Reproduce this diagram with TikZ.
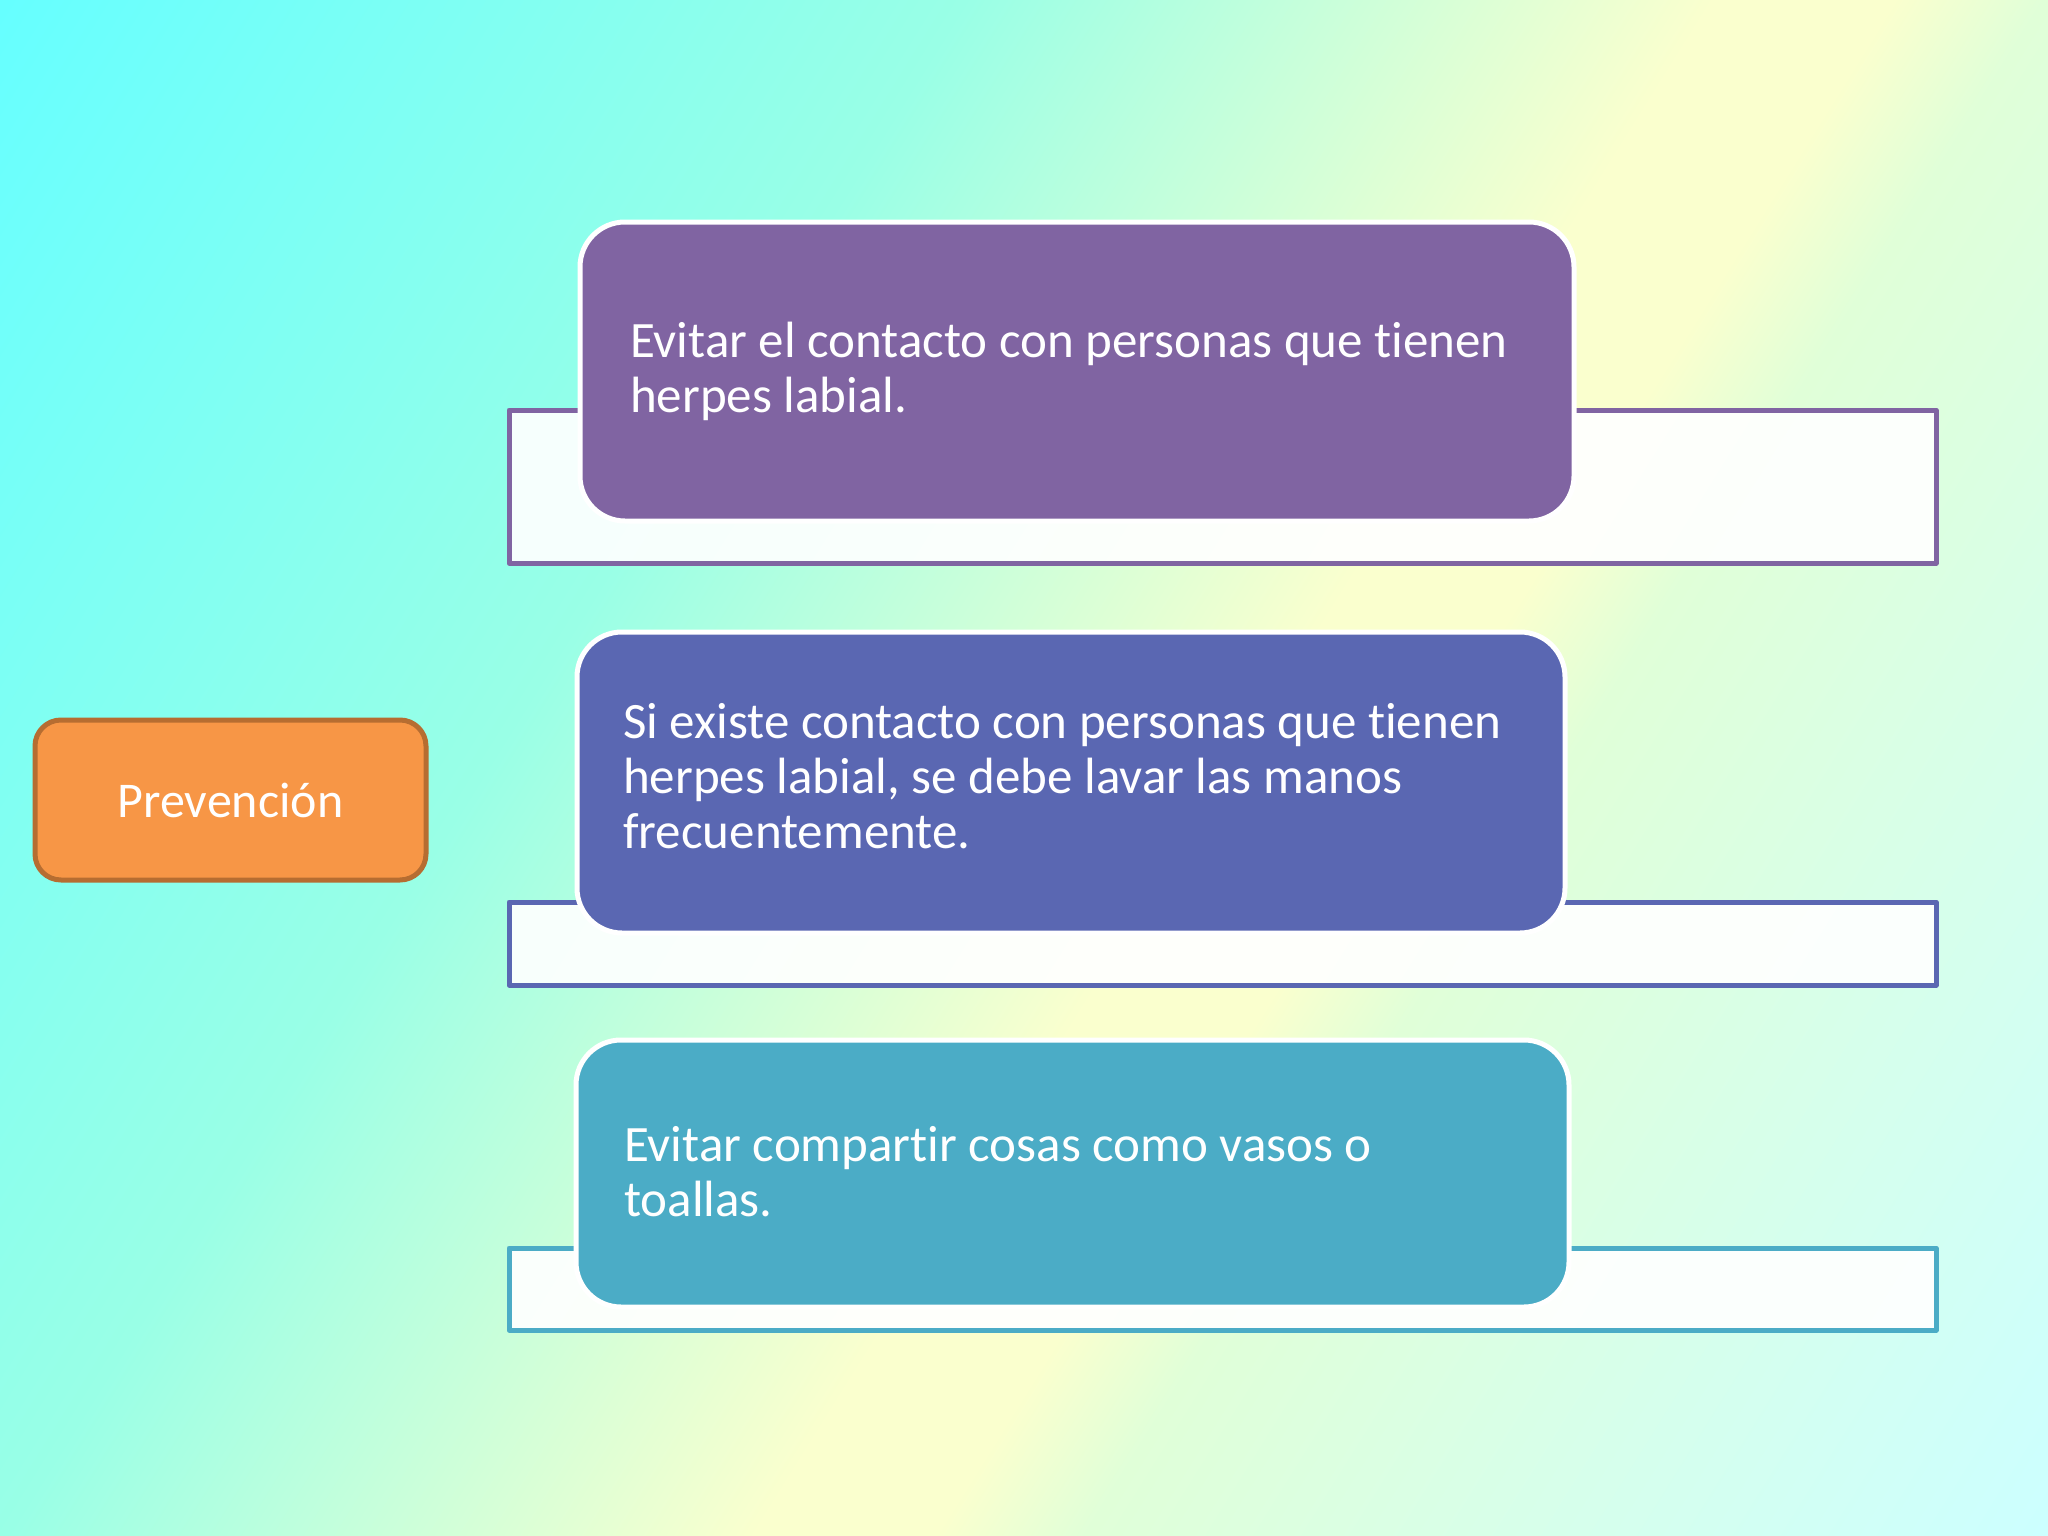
\documentclass[tikz,border=0pt]{standalone}
\usepackage{fontspec}
\setmainfont{Carlito}[Ligatures=NoCommon]
\definecolor{bgA}{HTML}{66FFFF}
\definecolor{bgB}{HTML}{99FFE6}
\definecolor{bgY}{HTML}{FAFFCE}
\definecolor{bgG}{HTML}{E0FFD8}
\definecolor{bgC}{HTML}{CCFFFF}
\definecolor{purp}{HTML}{8064A2}
\definecolor{indg}{HTML}{5A67B2}
\definecolor{teal}{HTML}{4BACC6}
\definecolor{orfill}{HTML}{F79646}
\definecolor{orline}{HTML}{B66D31}
\pgfdeclarehorizontalshading{bgshade}{100bp}{color(0bp)=(bgA); color(25.48bp)=(bgA); color(41.18bp)=(bgB); color(53.44bp)=(bgY); color(56.39bp)=(bgY); color(58.84bp)=(bgG); color(74.54bp)=(bgC); color(100bp)=(bgC)}
\begin{document}
\begin{tikzpicture}[x=1pt,y=-1pt,
  panel/.style={line width=5pt, line join=round, fill=white, fill opacity=0.92},
  card/.style={rectangle, draw=white, line width=5pt, rounded corners=45pt, inner sep=0pt},
  txt/.style={text=white, font=\fontsize{51}{55}\selectfont, align=left, inner sep=0pt, anchor=base west},
  prev/.style={rectangle, draw=orline, fill=orfill, line width=5pt, rounded corners=26pt, text=white, font=\fontsize{50}{55}\selectfont, inner sep=0pt}]
\useasboundingbox (0,0) rectangle (2048,1536);
\begin{scope}
\clip (0,0) rectangle (2048,1536);
\shade[shading=bgshade, shading angle=-32] (-276,-532) rectangle (2324,2068);
\end{scope}
% panels behind
\draw[panel, draw=purp] (509,410) rectangle (1936,563);
\draw[panel, draw=indg] (509,902) rectangle (1936,985);
\draw[panel, draw=teal] (509,1248) rectangle (1936,1330);
% cards
\node[card, fill=purp, minimum width=994pt, minimum height=299pt] (c1) at (1077,371.5) {};
\node[card, fill=indg, minimum width=988pt, minimum height=301pt] (c2) at (1071,782.5) {};
\node[card, fill=teal, minimum width=993pt, minimum height=267pt] (c3) at (1072.5,1173.5) {};
% texts (anchor = baseline of last line)
\node[txt] (t1) at (630,412) {Evitar el contacto con personas que tienen\\herpes labial.};
\node[txt] (t2) at (623,848) {Si existe contacto con personas que tienen\\herpes labial, se debe lavar las manos\\frecuentemente.};
\node[txt] (t3) at (624,1216) {Evitar compartir cosas como vasos o\\toallas.};
% left box
\node[prev, minimum width=391pt, minimum height=160pt] (p) at (230.5,800) {Prevención};
\end{tikzpicture}
\end{document}
